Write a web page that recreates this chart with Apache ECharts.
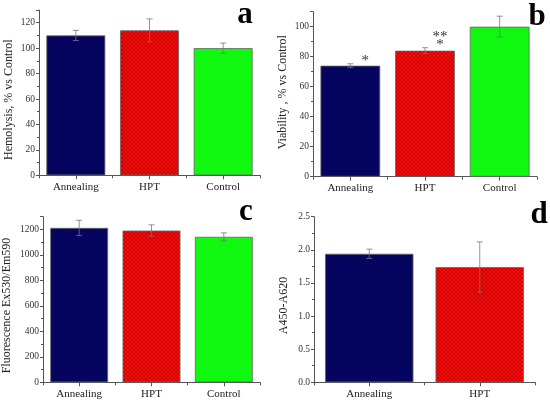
<!DOCTYPE html>
<html><head><meta charset="utf-8">
<script src="https://cdn.jsdelivr.net/npm/echarts@6/dist/echarts.min.js"></script>
<style>html,body{margin:0;padding:0;background:#fff}#c{width:550px;height:402px}</style>
</head><body><div id="c"></div>
<script>
const catsABC = ['Annealing', 'HPT', 'Control'];
const catsD = ['Annealing', 'HPT'];
const hemolysis = [110, 114, 100];
const hemolysisErr = [4, 9, 4];
const viability = [74, 84, 100];
const viabilityErr = [1.3, 2, 7];
const viabilityStars = ['*', '**\n*', ''];
const fluorescence = [1212, 1191, 1142];
const fluorescenceErr = [60, 45, 31];
const absorbance = [1.94, 1.74];
const absorbanceErr = [0.07, 0.38];
const panelLetters = ['a', 'b', 'c', 'd'];
const yNames = ['Hemolysis, % vs Control', 'Viability , % vs Control', 'Fluorescence Ex530/Em590', 'A450-A620'];

const FONT = 'Liberation Serif, Times New Roman, serif';
const pc = document.createElement('canvas');
pc.width = 4; pc.height = 4;
const g = pc.getContext('2d');
g.fillStyle = '#ff0a0a'; g.fillRect(0, 0, 4, 4);
g.fillStyle = '#c20000';
[[0,0],[1,1],[2,2],[3,3],[3,0],[2,1],[1,2],[0,3]].forEach(p => g.fillRect(p[0], p[1], 1, 1));
const redPattern = { image: pc, repeat: 'repeat' };
const barColors = ['#05055f', redPattern, '#10f810'];

const grids = [
  { left: 39, top: 10, width: 221, height: 165.3 },
  { left: 313, top: 11.7, width: 224, height: 165 },
  { left: 38, top: 216.7, width: 222, height: 165.6 },
  { left: 314, top: 216.7, width: 221, height: 165.6 }
];
const yCfg = [
  { min: 0, max: 130, interval: 20, showMax: false },
  { min: 0, max: 110, interval: 20, showMax: false },
  { min: 0, max: 1300, interval: 200, showMax: false },
  { min: 0, max: 2.5, interval: 0.5, showMax: true }
];
const nameGaps = [24, 24, 30, 24];
const namePads = [[0, 14, 0, 0], [0, 0, 0, 4], [0, 12, 0, 0], [0, 12, 0, 0]];
const panelCats = [catsABC, catsABC, catsABC, catsD];
const panelVals = [hemolysis, viability, fluorescence, absorbance];
const panelErrs = [hemolysisErr, viabilityErr, fluorescenceErr, absorbanceErr];
const panelStars = [null, viabilityStars, null, null];

const xAxis = [], yAxis = [], series = [], graphic = [];
const axisColor = '#555';
grids.forEach((gr, i) => {
  xAxis.push({
    type: 'category', gridIndex: i, data: panelCats[i],
    axisLine: { lineStyle: { color: axisColor, width: 1 } },
    axisTick: { show: true, length: 3, lineStyle: { color: axisColor } },
    axisLabel: { color: '#222', fontFamily: FONT, fontSize: 11, margin: 6 }
  });
  xAxis.push({
    type: 'category', gridIndex: i, data: panelCats[i], position: 'bottom',
    axisLine: { show: false },
    axisTick: { show: true, alignWithLabel: true, length: 4, lineStyle: { color: axisColor } },
    axisLabel: { show: false }
  });
  yAxis.push({
    type: 'value', gridIndex: i, min: yCfg[i].min, max: yCfg[i].max, interval: yCfg[i].interval,
    name: yNames[i], nameLocation: 'middle', nameGap: nameGaps[i],
    nameTextStyle: { fontFamily: FONT, fontSize: 12, color: '#222', padding: namePads[i] },
    axisLine: { show: true, lineStyle: { color: axisColor } },
    axisTick: { show: true, length: 3, lineStyle: { color: axisColor } },
    minorTick: { show: true, splitNumber: 2, length: 2, lineStyle: { color: axisColor } },
    splitLine: { show: false },
    axisLabel: { color: '#333', fontFamily: FONT, fontSize: 9.5, margin: 4, showMaxLabel: yCfg[i].showMax,
      formatter: v => (i === 3 ? v.toFixed(1) : String(v)) }
  });
  const vals = panelVals[i];
  series.push({
    type: 'bar', xAxisIndex: i * 2, yAxisIndex: i, barWidth: '80%',
    data: vals.map((v, k) => ({ value: v, itemStyle: { color: barColors[k] } })),
    itemStyle: { borderColor: '#666', borderWidth: 0.8 },
    silent: true
  });
  const errs = panelErrs[i];
  const stars = panelStars[i];
  series.push({
    type: 'custom', xAxisIndex: i * 2, yAxisIndex: i, z: 5, silent: true,
    data: vals.map((v, k) => [k, v, errs[k]]),
    renderItem: (params, api) => {
      const k = api.value(0), v = api.value(1), e = api.value(2);
      const top = api.coord([k, v + e]);
      const bot = api.coord([k, v - e]);
      const hw = 3;
      const st = { stroke: '#777', lineWidth: 0.8 };
      const children = [
        { type: 'line', shape: { x1: top[0], y1: top[1], x2: bot[0], y2: bot[1] }, style: st },
        { type: 'line', shape: { x1: top[0] - hw, y1: top[1], x2: top[0] + hw, y2: top[1] }, style: st },
        { type: 'line', shape: { x1: bot[0] - hw, y1: bot[1], x2: bot[0] + hw, y2: bot[1] }, style: st }
      ];
      if (stars && stars[params.dataIndex]) {
        children.push({ type: 'text', x: top[0] + 15, y: top[1] + 1,
          style: { text: stars[params.dataIndex], font: '15px ' + FONT, fill: '#333',
            align: 'center', verticalAlign: 'bottom', lineHeight: 8 } });
      }
      return { type: 'group', children };
    }
  });
});
const letterPos = [[245, -1], [537, 1], [246, 196.7], [539, 199]];
letterPos.forEach((p, i) => {
  graphic.push({ type: 'text', x: p[0], y: p[1],
    style: { text: panelLetters[i], font: 'bold 31px ' + FONT, fill: '#000', align: 'center', verticalAlign: 'top' } });
});

const chart = echarts.init(document.getElementById('c'), null, { renderer: 'canvas' });
chart.setOption({
  animation: false,
  grid: grids,
  xAxis, yAxis, series, graphic
});
</script></body></html>
